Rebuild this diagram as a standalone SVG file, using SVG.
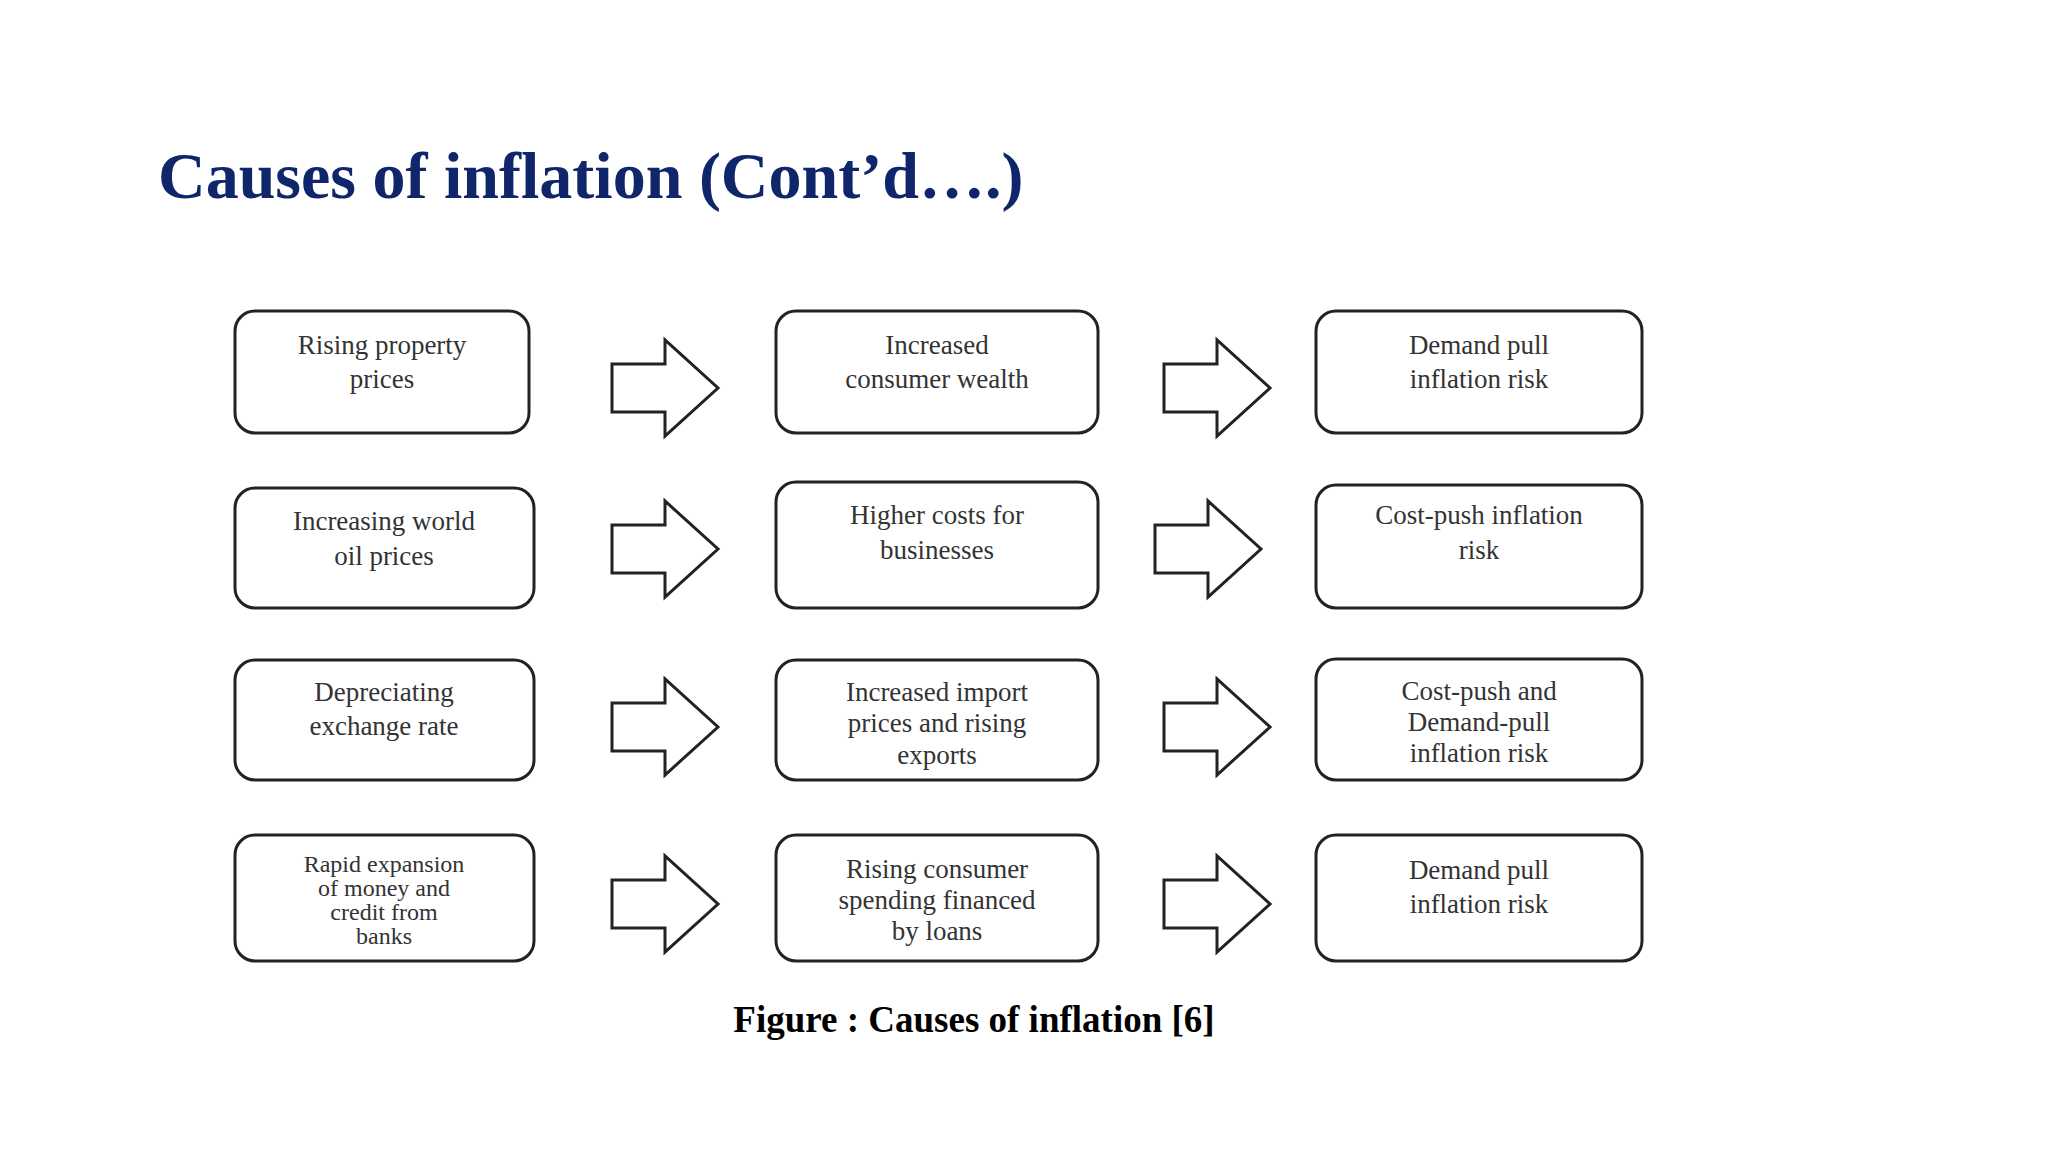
<svg xmlns="http://www.w3.org/2000/svg" width="2048" height="1152" viewBox="0 0 2048 1152">
<style>
.b{fill:#fff;stroke:#222;stroke-width:3}
.a{fill:#fff;stroke:#222;stroke-width:3;stroke-linejoin:miter}
.t{font-family:"Liberation Serif",serif;font-size:27px;fill:#333;text-anchor:middle}
.s{font-size:24px}
</style>
<rect width="2048" height="1152" fill="#fff"/>
<text x="158" y="198" font-family="Liberation Serif, serif" font-weight="bold" font-size="66" fill="#10266a">Causes of inflation (Cont’d….)</text>
<g id="connectors">
<path class="a" d="M612,364 h53 v-24 l53,48 l-53,48 v-24 h-53z"/>
<path class="a" d="M1164,364 h53 v-24 l53,48 l-53,48 v-24 h-53z"/>
<path class="a" d="M612,525 h53 v-24 l53,48 l-53,48 v-24 h-53z"/>
<path class="a" d="M1155,525 h53 v-24 l53,48 l-53,48 v-24 h-53z"/>
<path class="a" d="M612,703 h53 v-24 l53,48 l-53,48 v-24 h-53z"/>
<path class="a" d="M1164,703 h53 v-24 l53,48 l-53,48 v-24 h-53z"/>
<path class="a" d="M612,880 h53 v-24 l53,48 l-53,48 v-24 h-53z"/>
<path class="a" d="M1164,880 h53 v-24 l53,48 l-53,48 v-24 h-53z"/>
</g>
<g id="n11"><rect class="b" x="235" y="311" width="294" height="122" rx="20"/><text class="t" x="382" y="354">Rising property</text><text class="t" x="382" y="388">prices</text></g>
<g id="n12"><rect class="b" x="776" y="311" width="322" height="122" rx="20"/><text class="t" x="937" y="354">Increased</text><text class="t" x="937" y="388">consumer wealth</text></g>
<g id="n13"><rect class="b" x="1316" y="311" width="326" height="122" rx="20"/><text class="t" x="1479" y="354">Demand pull</text><text class="t" x="1479" y="388">inflation risk</text></g>
<g id="n21"><rect class="b" x="235" y="488" width="299" height="120" rx="20"/><text class="t" x="384" y="530">Increasing world</text><text class="t" x="384" y="565">oil prices</text></g>
<g id="n22"><rect class="b" x="776" y="482" width="322" height="126" rx="20"/><text class="t" x="937" y="524">Higher costs for</text><text class="t" x="937" y="559">businesses</text></g>
<g id="n23"><rect class="b" x="1316" y="485" width="326" height="123" rx="20"/><text class="t" x="1479" y="524">Cost-push inflation</text><text class="t" x="1479" y="559">risk</text></g>
<g id="n31"><rect class="b" x="235" y="660" width="299" height="120" rx="20"/><text class="t" x="384" y="701">Depreciating</text><text class="t" x="384" y="735">exchange rate</text></g>
<g id="n32"><rect class="b" x="776" y="660" width="322" height="120" rx="20"/><text class="t" x="937" y="701">Increased import</text><text class="t" x="937" y="732">prices and rising</text><text class="t" x="937" y="764">exports</text></g>
<g id="n33"><rect class="b" x="1316" y="659" width="326" height="121" rx="20"/><text class="t" x="1479" y="700">Cost-push and</text><text class="t" x="1479" y="731">Demand-pull</text><text class="t" x="1479" y="762">inflation risk</text></g>
<g id="n41"><rect class="b" x="235" y="835" width="299" height="126" rx="20"/><text class="t s" x="384" y="872">Rapid expansion</text><text class="t s" x="384" y="896">of money and</text><text class="t s" x="384" y="920">credit from</text><text class="t s" x="384" y="944">banks</text></g>
<g id="n42"><rect class="b" x="776" y="835" width="322" height="126" rx="20"/><text class="t" x="937" y="878">Rising consumer</text><text class="t" x="937" y="909">spending financed</text><text class="t" x="937" y="940">by loans</text></g>
<g id="n43"><rect class="b" x="1316" y="835" width="326" height="126" rx="20"/><text class="t" x="1479" y="879">Demand pull</text><text class="t" x="1479" y="913">inflation risk</text></g>
<text x="974" y="1032" font-family="Liberation Serif, serif" font-weight="bold" font-size="37" fill="#000" text-anchor="middle">Figure : Causes of inflation [6]</text>
</svg>
